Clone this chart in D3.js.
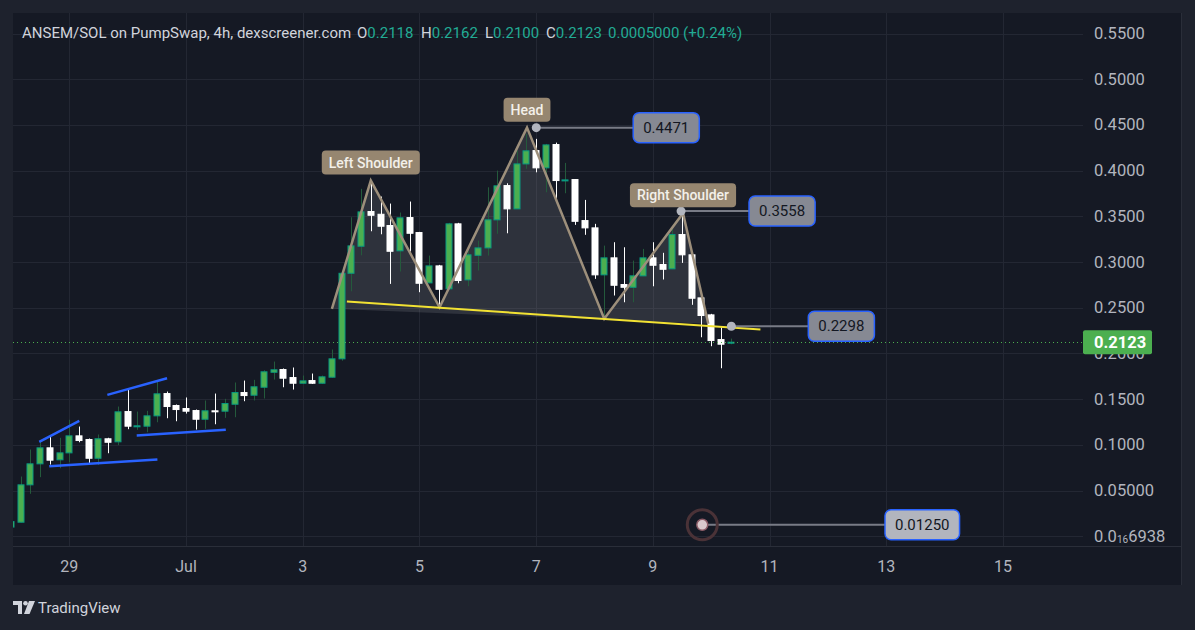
<!DOCTYPE html>
<html>
<head>
<meta charset="utf-8">
<script src="https://cdn.jsdelivr.net/npm/d3@7"></script>
<style>
  html, body { margin: 0; padding: 0; background: #1e222d; }
  svg { display: block; font-family: Roboto, "DejaVu Sans", sans-serif; }
</style>
</head>
<body>
<div id="chart"></div>
<script>
// 4h bars, first one opens Jun 28 00:00
const firstBar = new Date(2025, 5, 28, 0, 0);
const barHours = 4;

const opens  = [0.0100, 0.0153, 0.0562, 0.0792, 0.0967, 0.0836, 0.0912, 0.1098, 0.1058, 0.0853,
                0.1066, 0.1033, 0.1364, 0.1204, 0.1204, 0.1317, 0.1561, 0.1430, 0.1397, 0.1375,
                0.1280, 0.1372, 0.1368, 0.1444, 0.1572, 0.1543, 0.1630, 0.1794, 0.1824, 0.1736,
                0.1674, 0.1703, 0.1674, 0.1740, 0.1941, 0.2877, 0.3173, 0.3553, 0.3523, 0.3400,
                0.3123, 0.3487, 0.3323, 0.2772, 0.2958, 0.2707, 0.3418, 0.2805, 0.3074, 0.3155,
                0.3462, 0.3837, 0.3582, 0.4074, 0.4220, 0.4031, 0.4286, 0.3892, 0.3903, 0.3454,
                0.3374, 0.2860, 0.3046, 0.2754, 0.2724, 0.2849, 0.3046, 0.2973, 0.2926, 0.3301,
                0.3079, 0.2608, 0.2422, 0.2152, 0.2118];
const highs  = [0.0175, 0.0653, 0.0949, 0.1047, 0.1091, 0.1077, 0.1274, 0.1200, 0.1069, 0.1113,
                0.1077, 0.1419, 0.1605, 0.1364, 0.1372, 0.1703, 0.1583, 0.1441, 0.1518, 0.1386,
                0.1485, 0.1561, 0.1503, 0.1682, 0.1703, 0.1711, 0.1816, 0.1911, 0.1835, 0.1846,
                0.1758, 0.1780, 0.1758, 0.2043, 0.2880, 0.3490, 0.3801, 0.3881, 0.3717, 0.3640,
                0.3542, 0.3662, 0.3330, 0.3071, 0.2969, 0.3429, 0.3429, 0.3126, 0.3235, 0.3818,
                0.4001, 0.3862, 0.4220, 0.4403, 0.4348, 0.4293, 0.4307, 0.4085, 0.3905, 0.3680,
                0.3418, 0.3180, 0.3217, 0.3162, 0.3016, 0.3144, 0.3217, 0.3101, 0.3363, 0.3527,
                0.3083, 0.2615, 0.2433, 0.2287, 0.2162];
const lows   = [0.0090, 0.0150, 0.0464, 0.0646, 0.0784, 0.0744, 0.0810, 0.1028, 0.0788, 0.0781,
                0.0908, 0.0996, 0.1171, 0.1164, 0.1138, 0.1247, 0.1291, 0.1258, 0.1342, 0.1167,
                0.1175, 0.1225, 0.1295, 0.1302, 0.1477, 0.1485, 0.1507, 0.1714, 0.1630, 0.1605,
                0.1667, 0.1667, 0.1667, 0.1735, 0.1920, 0.2680, 0.3074, 0.3337, 0.3304, 0.2761,
                0.2896, 0.3115, 0.2670, 0.2770, 0.2505, 0.2700, 0.2768, 0.2735, 0.2907, 0.3071,
                0.3309, 0.3315, 0.3580, 0.4020, 0.3982, 0.3764, 0.3665, 0.3753, 0.3407, 0.3298,
                0.2816, 0.2396, 0.2634, 0.2560, 0.2560, 0.2846, 0.2735, 0.2809, 0.2922, 0.2991,
                0.2532, 0.2177, 0.2079, 0.1838, 0.2100];
const closes = [0.0160, 0.0562, 0.0792, 0.0967, 0.0832, 0.0912, 0.1098, 0.1047, 0.0853, 0.1066,
                0.1028, 0.1361, 0.1204, 0.1208, 0.1317, 0.1558, 0.1419, 0.1386, 0.1368, 0.1280,
                0.1372, 0.1368, 0.1452, 0.1572, 0.1539, 0.1635, 0.1799, 0.1821, 0.1729, 0.1674,
                0.1700, 0.1674, 0.1744, 0.1941, 0.2877, 0.3177, 0.3549, 0.3512, 0.3392, 0.3118,
                0.3484, 0.3315, 0.2768, 0.2958, 0.2702, 0.3418, 0.2798, 0.3079, 0.3155, 0.3462,
                0.3834, 0.3582, 0.4074, 0.4217, 0.4031, 0.4282, 0.3892, 0.3899, 0.3446, 0.3374,
                0.2860, 0.3046, 0.2746, 0.2724, 0.2849, 0.3046, 0.2965, 0.2921, 0.3301, 0.3079,
                0.2604, 0.2415, 0.2141, 0.2101, 0.2123];

// axis ticks
const priceTicks = [0.55, 0.50, 0.45, 0.40, 0.35, 0.30, 0.25, 0.20, 0.15, 0.10, 0.05];
const priceTickLabels = ["0.5500", "0.5000", "0.4500", "0.4000", "0.3500", "0.3000", "0.2500",
                         "0.2000", "0.1500", "0.1000", "0.05000"];
const timeTicks = [new Date(2025, 5, 29), new Date(2025, 6, 1), new Date(2025, 6, 3), new Date(2025, 6, 5),
                   new Date(2025, 6, 7), new Date(2025, 6, 9), new Date(2025, 6, 11), new Date(2025, 6, 13),
                   new Date(2025, 6, 15)];
const timeTickLabels = ["29", "Jul", "3", "5", "7", "9", "11", "13", "15"];

// drawings, x given in bar index from firstBar
const hsPattern = [[33.0, 0.2488], [37.0, 0.3892], [44.07, 0.2505], [53.06, 0.4471],
                   [61.0, 0.2379], [69.1, 0.3534], [71.7, 0.2324]];
const hsLabels = [{ i: 1, text: "Left Shoulder" }, { i: 3, text: "Head" }, { i: 5, text: "Right Shoulder" }];
const neckline = [[34.54, 0.2568], [77.06, 0.2262]];
const blueLines = [
  [[2.91, 0.1033], [7.03, 0.1263]],
  [[3.94, 0.0766], [15.06, 0.0839]],
  [[9.91, 0.1547], [16.05, 0.1729]],
  [[12.93, 0.1101], [22.09, 0.1166]]
];
const priceNotes = [
  { i: 54.01, price: 0.4471, label: "0.4471", dx: 130, fill: "#868993" },
  { i: 68.9, price: 0.3558, label: "0.3558", dx: 101, fill: "#868993" },
  { i: 74.07, price: 0.2298, label: "0.2298", dx: 110, fill: "#868993" },
  { i: 71.08, price: 0.0125, label: "0.01250", dx: 220, fill: "#b2b5be", ring: true }
];
const lastPrice = 0.2123;

const W = 1195, H = 630;
const plot = { left: 13, right: 1083, top: 13, bottom: 546 };
const axisRight = 1182, xAxisBottom = 585;

const svg = d3.select("#chart").append("svg").attr("width", W).attr("height", H);

const x = d3.scaleTime()
  .domain([new Date(2025, 5, 29), new Date(2025, 6, 15)])
  .range([69.3, 1003]);
const y = d3.scaleLinear().domain([0, 0.55]).range([536.2, 33.6]);

const barTime = i => new Date(firstBar.getTime() + i * barHours * 3600 * 1000);
const bx = i => x(barTime(i));

const bars = opens.map((o, i) => ({ t: barTime(i), o, h: highs[i], l: lows[i], c: closes[i] }));

// panes
svg.append("rect").attr("width", W).attr("height", H).attr("fill", "#1e222d");
svg.append("rect").attr("x", plot.left).attr("y", plot.top)
  .attr("width", axisRight - plot.left).attr("height", xAxisBottom - plot.top)
  .attr("fill", "#151924");

const defs = svg.append("defs");
defs.append("clipPath").attr("id", "plotClip").append("rect")
  .attr("x", plot.left).attr("y", plot.top)
  .attr("width", plot.right - plot.left).attr("height", plot.bottom - plot.top);

// grid
const grid = svg.append("g").attr("clip-path", "url(#plotClip)");
grid.selectAll(".hg").data(priceTicks.concat([0])).enter().append("line")
  .attr("x1", plot.left).attr("x2", plot.right)
  .attr("y1", d => Math.round(y(d)) + 0.5).attr("y2", d => Math.round(y(d)) + 0.5)
  .attr("stroke", "#232733");
grid.selectAll(".vg").data(timeTicks).enter().append("line")
  .attr("y1", plot.top).attr("y2", plot.bottom)
  .attr("x1", d => Math.round(x(d)) + 0.5).attr("x2", d => Math.round(x(d)) + 0.5)
  .attr("stroke", "#232733");

// axis borders
svg.append("line").attr("x1", plot.left).attr("x2", axisRight)
  .attr("y1", plot.bottom + 0.5).attr("y2", plot.bottom + 0.5).attr("stroke", "#2a2e39");
svg.append("line").attr("x1", axisRight - 0.5).attr("x2", axisRight - 0.5)
  .attr("y1", plot.top).attr("y2", xAxisBottom).attr("stroke", "#2a2e39");

const chart = svg.append("g").attr("clip-path", "url(#plotClip)");
const pt = d => [bx(d[0]), y(d[1])];

// head & shoulders fill
chart.append("path")
  .attr("d", d3.line()(hsPattern.map(pt)) + "Z")
  .attr("fill", "rgba(149,152,161,0.2)");

// candles
const bodyW = 7;
const candle = chart.selectAll(".candle").data(bars).enter().append("g");
candle.append("line")
  .attr("x1", d => Math.round(x(d.t)) + 0.5).attr("x2", d => Math.round(x(d.t)) + 0.5)
  .attr("y1", d => y(d.h)).attr("y2", d => y(d.l))
  .attr("stroke", d => d.c >= d.o ? "#245a3c" : "#ffffff").attr("stroke-width", 1);
candle.append("rect")
  .attr("x", d => Math.round(x(d.t)) - bodyW / 2 + 0.5)
  .attr("y", d => y(Math.max(d.o, d.c)))
  .attr("width", bodyW - 1)
  .attr("height", d => Math.max(1, Math.abs(y(d.o) - y(d.c))))
  .attr("fill", d => d.c >= d.o ? "#4caf50" : "#ffffff")
  .attr("stroke", d => d.c >= d.o ? "#089981" : "#ffffff")
  .attr("stroke-width", 1);

// blue trend lines
chart.selectAll(".blue").data(blueLines).enter().append("path")
  .attr("d", d => d3.line()(d.map(pt)))
  .attr("stroke", "#2962ff").attr("stroke-width", 2.5).attr("fill", "none");

// pattern outline
chart.append("path")
  .attr("d", d3.line()(hsPattern.map(pt)))
  .attr("stroke", "#9d8f7b").attr("stroke-width", 2.5).attr("fill", "none")
  .attr("stroke-linejoin", "miter");

// neckline
chart.append("path")
  .attr("d", d3.line()(neckline.map(pt)))
  .attr("stroke", "#f2e233").attr("stroke-width", 2).attr("fill", "none");

// last price dotted line
svg.append("line")
  .attr("x1", plot.left).attr("x2", plot.right)
  .attr("y1", Math.round(y(lastPrice)) + 0.5).attr("y2", Math.round(y(lastPrice)) + 0.5)
  .attr("stroke", "#4caf50").attr("stroke-dasharray", "1,3");

// price notes
const notes = svg.append("g");
priceNotes.forEach(n => {
  const cx = bx(n.i), cy = y(n.price);
  const g = notes.append("g");
  g.append("line").attr("x1", cx).attr("x2", cx + n.dx).attr("y1", cy).attr("y2", cy)
    .attr("stroke", "#787b86").attr("stroke-width", 2);
  if (n.ring) {
    g.append("circle").attr("cx", cx).attr("cy", cy).attr("r", 15)
      .attr("fill", "none").attr("stroke", "#4a3237").attr("stroke-width", 3);
    g.append("circle").attr("cx", cx).attr("cy", cy).attr("r", 5.5)
      .attr("fill", "#d9c9cd").attr("stroke", "#8a5b66").attr("stroke-width", 1.5);
  } else {
    g.append("circle").attr("cx", cx).attr("cy", cy).attr("r", 4.5).attr("fill", "#b2b5be");
  }
  const t = g.append("text").attr("x", cx + n.dx).attr("y", cy)
    .attr("text-anchor", "middle").attr("dominant-baseline", "central")
    .attr("font-size", 15).attr("fill", "#131722").text(n.label);
  const w = t.node().getComputedTextLength() + 20;
  g.insert("rect", "text")
    .attr("x", cx + n.dx - w / 2).attr("y", cy - 15).attr("width", w).attr("height", 30)
    .attr("rx", 6).attr("fill", n.fill).attr("stroke", "#2962ff").attr("stroke-width", 1.5);
});

// pattern labels
hsLabels.forEach(l => {
  const p = pt(hsPattern[l.i]);
  const g = svg.append("g");
  const t = g.append("text").attr("x", p[0]).attr("y", p[1] - 18)
    .attr("text-anchor", "middle").attr("dominant-baseline", "central")
    .attr("font-size", 14).attr("font-weight", 500).attr("fill", "#f3f0ea").text(l.text);
  const w = t.node().getComputedTextLength() + 14;
  g.insert("rect", "text")
    .attr("x", p[0] - w / 2).attr("y", p[1] - 30).attr("width", w).attr("height", 24)
    .attr("rx", 4).attr("fill", "#968670");
});

// price axis labels (the 0.2000 label sits behind the last price tag, as in TradingView)
svg.selectAll(".ptl").data(priceTicks).enter().append("text")
  .attr("x", 1094).attr("y", d => y(d))
  .attr("dominant-baseline", "central").attr("font-size", 16.5).attr("fill", "#b2b5be")
  .text((d, i) => priceTickLabels[i]);
const zeroLabel = svg.append("text").attr("x", 1094).attr("y", y(0))
  .attr("dominant-baseline", "central").attr("font-size", 16.5).attr("fill", "#b2b5be");
zeroLabel.append("tspan").text("0.0");
zeroLabel.append("tspan").attr("font-size", 10).attr("dy", 3).text("16");
zeroLabel.append("tspan").attr("dy", -3).text("6938");

// last price tag
svg.append("rect").attr("x", plot.right).attr("y", y(lastPrice) - 12)
  .attr("width", 69).attr("height", 24).attr("rx", 2).attr("fill", "#4caf50");
svg.append("text").attr("x", 1094).attr("y", y(lastPrice))
  .attr("dominant-baseline", "central").attr("font-size", 16.5).attr("font-weight", 700)
  .attr("fill", "#ffffff").text(lastPrice.toFixed(4));

// time axis labels
svg.selectAll(".ttl").data(timeTicks).enter().append("text")
  .attr("x", d => x(d)).attr("y", 566)
  .attr("text-anchor", "middle").attr("dominant-baseline", "central")
  .attr("font-size", 16).attr("fill", "#b2b5be")
  .text((d, i) => timeTickLabels[i]);

// header legend
const head = svg.append("text").attr("y", 33).attr("dominant-baseline", "central")
  .attr("font-size", 15).attr("fill", "#d1d4dc");
head.append("tspan").attr("x", 22).text("ANSEM/SOL on PumpSwap, 4h, dexscreener.com");
const last = bars[bars.length - 1];
const ohlc = [["O", last.o, 357], ["H", last.h, 421], ["L", last.l, 485], ["C", last.c, 546]];
ohlc.forEach(([k, v, px]) => {
  head.append("tspan").attr("x", px).text(k);
  head.append("tspan").attr("fill", "#22ab94").text(v.toFixed(4));
});
head.append("tspan").attr("x", 608).attr("fill", "#22ab94")
  .text("0.0005000 (+0.24%)");

// TradingView footer
const logo = svg.append("g").attr("transform", "translate(13,601)").attr("fill", "#d1d4dc");
logo.append("path").attr("d", "M0 0H9V13H5V4H0Z");
logo.append("circle").attr("cx", 12.5).attr("cy", 2.3).attr("r", 2.3);
logo.append("path").attr("d", "M16 0H22L16.5 13H11Z");
svg.append("text").attr("x", 38).attr("y", 608).attr("dominant-baseline", "central")
  .attr("font-size", 15).attr("fill", "#d1d4dc").text("TradingView");
</script>
</body>
</html>
